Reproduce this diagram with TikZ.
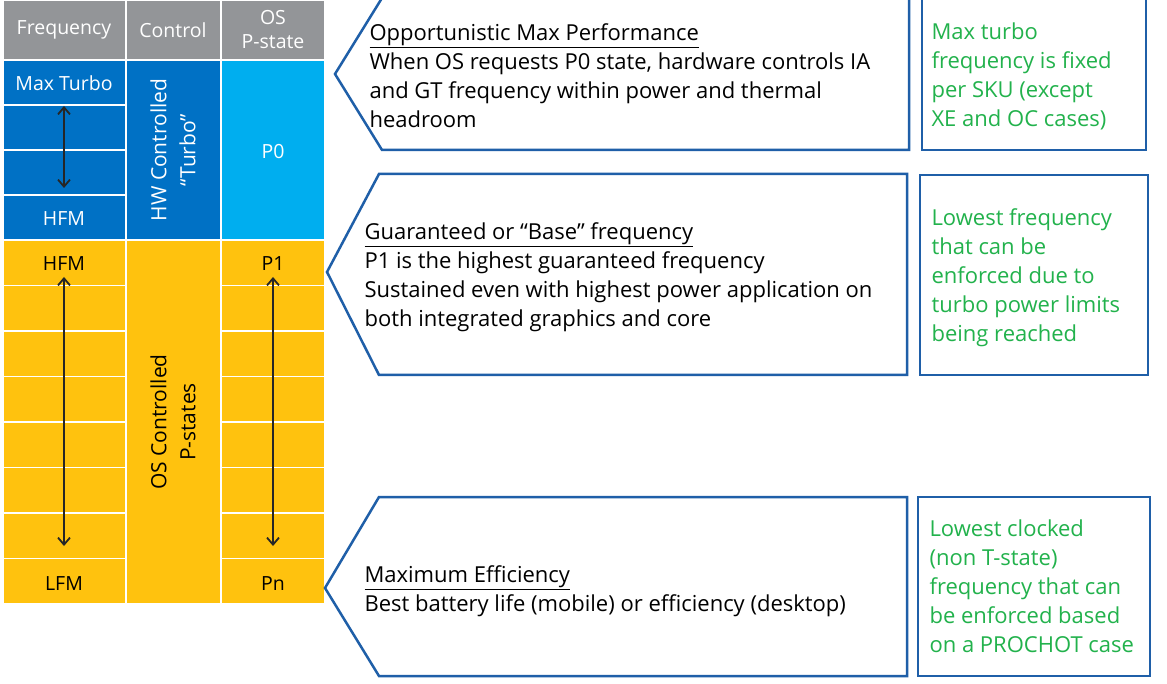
\documentclass[tikz,border=0pt]{standalone}
\usepackage{fontspec}
\setmainfont{Open Sans}
\begin{document}
\begin{tikzpicture}[x=1pt,y=-1pt,
  cell/.style={draw=white,line width=1.5pt},
  lbl/.style={font=\fontsize{19.5}{21}\selectfont},
  call/.style={draw=outb,line width=2.5pt,fill=white,line join=miter},
  note/.style={draw=outb,line width=2.5pt},
  ctext/.style={anchor=north west,align=left,font=\fontsize{22}{29}\selectfont,text=black},
  gtext/.style={anchor=north west,align=left,font=\fontsize{22}{29}\selectfont,text=grn},
  dar/.style={<->,>={Straight Barb[length=7pt,width=12pt,line width=1.8pt]},line width=1.6pt,draw=black!85}]
\usetikzlibrary{arrows.meta}
\definecolor{hdr}{HTML}{939598}
\definecolor{dblue}{HTML}{0071C5}
\definecolor{lblue}{HTML}{00AEEF}
\definecolor{yel}{HTML}{FFC20E}
\definecolor{outb}{HTML}{1F5FA8}
\definecolor{grn}{HTML}{22B24C}
\useasboundingbox (0,0) rectangle (1167,684);
\fill[white] (0,0) rectangle (1167,684);
% header
\foreach \a/\b in {3/126,126/221,221/325}{\fill[hdr,cell] (\a,0) rectangle (\b,60);}
\node[lbl,text=white] (hf) at (64,30) {Frequency};
\node[lbl,text=white] (hc) at (173,30) {Control};
\node[lbl,text=white,align=center,font=\fontsize{19.5}{24}\selectfont] (hp) at (273,30) {OS\\P-state};
% blue rows
\foreach \y in {60,105,150,195}{\fill[dblue,cell] (3,\y) rectangle (126,\y+45);}
\fill[dblue,cell] (126,60) rectangle (221,240);
\fill[lblue,cell] (221,60) rectangle (325,240);
% yellow rows
\foreach \y in {240,285.5,331,376.5,422,467.5,513,558.5}{
  \fill[yel,cell] (3,\y) rectangle (126,\y+45.5);
  \fill[yel,cell] (221,\y) rectangle (325,\y+45.5);}
\fill[yel,cell] (126,240) rectangle (221,604);
% labels
\node[lbl,text=white] (mt) at (64,83) {Max Turbo};
\node[lbl,text=white] (hfm1) at (64,219) {HFM};
\node[lbl,text=white] (p0) at (273,152) {P0};
\node[lbl,text=white,rotate=90,align=center,font=\fontsize{21}{29}\selectfont] at (173,150) {HW Controlled\\``Turbo''};
\node[lbl] (hfm2) at (64,264) {HFM};
\node[lbl] (lfm) at (64,584) {LFM};
\node[lbl] (p1) at (273,264) {P1};
\node[lbl] (pn) at (273,584) {Pn};
\node[lbl,rotate=90,align=center,font=\fontsize{21}{29}\selectfont] at (173,422) {OS Controlled\\P-states};
\coordinate (a1) at (64,106); \coordinate (a2) at (64,188);
\draw[dar] (a1) -- (a2);
\coordinate (b1) at (64,277); \coordinate (b2) at (64,546);
\draw[dar] (b1) -- (b2);
\coordinate (c1) at (273,277); \coordinate (c2) at (273,546);
\draw[dar] (c1) -- (c2);
% callouts
\draw[call] (382,-2) -- (909,-2) -- (909,150) -- (382,150) -- (335,74) -- cycle;
\draw[call] (379,174) -- (907,174) -- (907,375) -- (379,375) -- (327,272) -- cycle;
\draw[call] (379,497) -- (907,497) -- (907,676) -- (379,676) -- (325,588) -- cycle;
\node[ctext] (t1) at (366,20) {\underline{Opportunistic Max Performance}\\When OS requests P0 state, hardware controls IA\\and GT frequency within power and thermal\\headroom};
\node[ctext] (t2) at (361,219) {\underline{Guaranteed or ``Base'' frequency}\\P1 is the highest guaranteed frequency\\Sustained even with highest power application on\\both integrated graphics and core};
\node[ctext] (t3) at (361,562) {\underline{Maximum Efficiency}\\Best battery life (mobile) or efficiency (desktop)};
% notes
\draw[note] (922,-2) rectangle (1146,150);
\draw[note] (920,175) rectangle (1148,375);
\draw[note] (918,497) rectangle (1150,676);
\node[gtext] (g1) at (928,19) {Max turbo\\frequency is fixed\\per SKU (except\\XE and OC cases)};
\node[gtext] (g2) at (928,205) {Lowest frequency\\that can be\\enforced due to\\turbo power limits\\being reached};
\node[gtext] (g3) at (926,516) {Lowest clocked\\(non T-state)\\frequency that can\\be enforced based\\on a PROCHOT case};
\end{tikzpicture}
\end{document}
